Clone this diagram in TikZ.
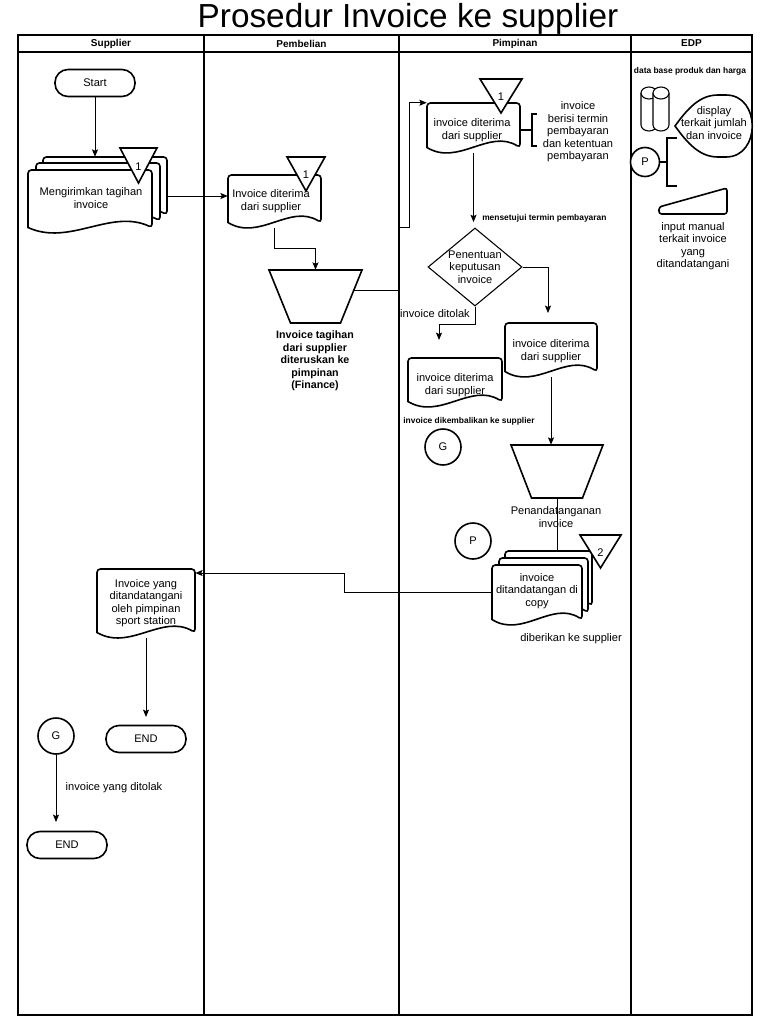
\documentclass[tikz,border=0pt]{standalone}
\usepackage{fontspec}
\setmainfont{Liberation Sans}
\usetikzlibrary{shapes.geometric,arrows.meta,calc}
\tikzset{
 shp/.style={draw=black, line width=1.2pt, fill=white},
 conn/.style={draw=black, line width=0.75pt},
 arr/.style={conn, -{Stealth[length=5.5pt,width=4.5pt,inset=1pt]}},
 txt/.style={font=\fontsize{8.3}{9.4}\selectfont, align=center, inner sep=0pt},
 btxt/.style={font=\bfseries\fontsize{8}{9.4}\selectfont, align=center, inner sep=0pt},
 htxt/.style={font=\bfseries\fontsize{7.5}{9}\selectfont, inner sep=0pt},
 stxt/.style={font=\bfseries\fontsize{6.3}{7.5}\selectfont, inner sep=0pt},
 term/.style={shp, rounded corners=9.75pt, minimum width=60pt, minimum height=20.25pt, font=\fontsize{8.3}{9.4}\selectfont, inner sep=0pt},
 circ/.style={shp, circle, minimum size=27pt, inner sep=0pt, font=\fontsize{8.3}{9.4}\selectfont},
 box/.style={inner sep=0pt, draw=none, fill=none},
}
\newcommand{\docshape}[4]{\draw[shp, rounded corners=2.5pt] ({#1},{#4-5.5}) -- ({#1},{#2}) -- ({#3},{#2}) -- ({#3},{#4-5.5}) [sharp corners] .. controls ({#3-(#3-#1)/3},{#4-24.5}) and ({#1+(#3-#1)/3},{#4+13.5}) .. ({#1},{#4-5.5}) -- cycle;}
\newcommand{\docnode}[5]{\docshape{#2}{#3}{#4}{#5}
 \node[box, minimum width={(#4-#2)*0.75pt}, minimum height={(#5-#3)*0.75pt}] (#1) at ({(#2+#4)/2},{(#3+#5)/2}) {};}
\newcommand{\trapnode}[6]{\draw[shp] ({#2-#4/2},{#3-#6/2}) -- ({#2+#4/2},{#3-#6/2}) -- ({#2+#5/2},{#3+#6/2}) -- ({#2-#5/2},{#3+#6/2}) -- cycle;
 \node[box, minimum width={#4*0.75pt}, minimum height={#6*0.75pt}] (#1) at (#2,#3) {};}
\newcommand{\offtri}[6]{\draw[shp] ({#2},{#4}) -- ({#3},{#4}) -- ({(#2+#3)/2},{#5}) -- cycle;
 \node[txt] (#1) at ({(#2+#3)/2},{#4+0.52*(#5-#4)}) {#6};}
\newcommand{\cyl}[4]{\draw[shp, line width=0.8pt] ({#1},{#2+6}) -- ({#1},{#4-6})
  .. controls ({#1},{#4-2.7}) and ({(#1+#3)/2-0.276*(#3-#1)},{#4}) .. ({(#1+#3)/2},{#4})
  .. controls ({(#1+#3)/2+0.276*(#3-#1)},{#4}) and ({#3},{#4-2.7}) .. ({#3},{#4-6}) -- ({#3},{#2+6});
 \draw[shp, line width=0.8pt] ({(#1+#3)/2},{#2+6}) ellipse [x radius={(#3-#1)/2}, y radius=6];}
\begin{document}
\begin{tikzpicture}[x=0.75pt, y=-0.75pt]
\useasboundingbox (0,0) rectangle (768,1024);
\node[font=\fontsize{25}{30}\selectfont, inner sep=0pt] (title) at (408,19) {Prosedur Invoice ke supplier};
% frame
\draw[line width=1pt] (18,35) rectangle (752,1015);
\draw[line width=0.8pt] (18,52) -- (752,52);
\foreach \xx in {204,399,631} \draw[line width=0.9pt] (\xx,35) -- (\xx,1015);
\node[htxt] (hsup) at (111,43.5) {Supplier};
\node[htxt] (hpem) at (301.5,43.5) {Pembelian};
\node[htxt] (hpim) at (515,43.5) {Pimpinan};
\node[htxt] (hedp) at (691.5,43.5) {EDP};
% Supplier
\node[term] (start) at (95,83) {Start};
\docnode{kirim3}{43}{157}{167}{220}
\docnode{kirim2}{36}{163}{160}{226}
\docnode{kirim}{28}{170}{152}{233}
\node[txt] (kirimt) at (91,198) {Mengirimkan tagihan\\invoice};
\offtri{tri1}{120}{157}{148}{183}{1}
% Pembelian
\docnode{terima1}{228}{175}{321}{228}
\node[txt] (terima1t) at (271,201) {Invoice diterima\\dari supplier};
\offtri{tri2}{287}{325}{157}{191}{1}
\trapnode{trap1}{315.5}{296.5}{93}{50}{53}
\coordinate (trap1r) at (354,290);
\node[btxt] (trap1t) at (315,361) {Invoice tagihan\\dari supplier\\diteruskan ke\\pimpinan\\(Finance)};
% Pimpinan
\docnode{recv2}{427}{103}{520}{153}
\node[txt] (recv2t) at (472,130) {invoice diterima\\dari supplier};
\offtri{tri3}{480}{522}{79}{113}{1}
\node[txt] (notet) at (578,132) {invoice\\berisi termin\\pembayaran\\dan ketentuan\\pembayaran};
\draw[conn, line width=1pt] (recv2.east |- 0,130) -- (532,130);
\draw[conn, line width=1pt] (537,114) -- (532,114) -- (532,146) -- (537,146);
\node[stxt, anchor=west] (setuju) at (482,218) {mensetujui termin pembayaran};
\node[draw, diamond, line width=0.8pt, fill=white, minimum width=70.5pt, minimum height=58.5pt, inner sep=0pt] (dec) at (475,267) {};
\node[txt] (dect) at (475,267) {Penentuan\\keputusan\\invoice};
\docnode{ok}{505}{323}{597}{377}
\node[txt] (okt) at (551,351) {invoice diterima\\dari supplier};
\node[txt] (tolaklbl) at (435,314) {invoice ditolak};
\docnode{tolak}{408}{358}{502}{407}
\node[txt] (tolakt) at (455,385) {invoice diterima\\dari supplier};
\node[stxt] (kembali) at (469,421) {invoice dikembalikan ke supplier};
\node[circ] (g1) at (443,447) {G};
\trapnode{trap2}{557}{471.5}{92}{51}{53}
\node[circ] (p1) at (473,541) {P};
\docnode{copy3}{505}{551}{592}{611}
\docnode{copy2}{499}{558}{588}{618}
\docnode{copy}{492}{565}{582}{625}
\node[txt] (copyt) at (537,591) {invoice\\ditandatangan di\\copy};
\offtri{tri4}{580}{621}{535}{568}{2}
\node[txt] (beri) at (571,639) {diberikan ke supplier};
\draw[conn] (trap2.south) -- (trap2.south |- copy3.north);
\node[txt] (trap2t) at (556,517) {Penandatanganan\\invoice};
% Supplier lower
\docnode{ttd}{97}{569}{195}{638}
\node[txt] (ttdt) at (146,603) {Invoice yang\\ditandatangani\\oleh pimpinan\\sport station};
\node[term] (end1) at (146,739) {END};
\node[circ] (g2) at (56,736) {G};
\node[txt] (ditolak) at (114,788) {invoice yang ditolak};
\node[term] (end2) at (67,845) {END};
% EDP
\node[stxt] (dbl) at (690,71) {data base produk dan harga};
\cyl{641}{87}{657}{131}
\cyl{653}{87}{669}{131}
\draw[shp] (675,126) .. controls (688,108) and (700,95) .. (718,95) -- (726,95) .. controls (761,95) and (761,157) .. (726,157) -- (718,157) .. controls (700,157) and (688,144) .. (675,126) -- cycle;
\node[txt] (dispt) at (714,123) {display\\terkait jumlah\\dan invoice};
\node[circ, minimum size=21.75pt] (pe) at (645,162) {P};
\draw[conn, line width=1pt] (pe.east) -- (667,162);
\draw[conn, line width=1pt] (677,138) -- (667,138) -- (667,186) -- (677,186);
\draw[shp, rounded corners=2pt] (659,214) -- (659,207) -- (727,188) -- (727,214) -- cycle;
\node[txt] (mant) at (693,246) {input manual\\terkait invoice\\yang\\ditandatangani};
% connectors
\coordinate (okin) at (548,313);
\coordinate (tolakin) at (439,340);
\coordinate (end1in) at (146,717);
\coordinate (end2in) at (56,822);
\draw[arr] (start.south) -- (start.south |- kirim3.north);
\draw[arr] (kirim3.east |- 0,196) -- (terima1.west |- 0,196);
\draw[arr] (terima1.south) -- ++(0,20) -| (trap1.north);
\draw[arr] (trap1r) -- (399,290) -- (399,227) -- (409,227) |- (recv2.north west);
\draw[arr, shorten >=4pt] (recv2.south) -- (recv2.south |- dec.north);
\draw[arr] (dec.east) -| (okin);
\draw[arr] (dec.south) -- ++(0,18) -| (tolakin);
\draw[arr] (ok.south) -- (ok.south |- trap2.north);
\draw[arr] (copy.west |- 0,592) -- (344,592) -- (344,573) -- (ttd.east |- 0,573);
\draw[arr] (ttd.south) -- (end1in);
\draw[arr] (g2.south) -- (end2in);
\end{tikzpicture}
\end{document}
